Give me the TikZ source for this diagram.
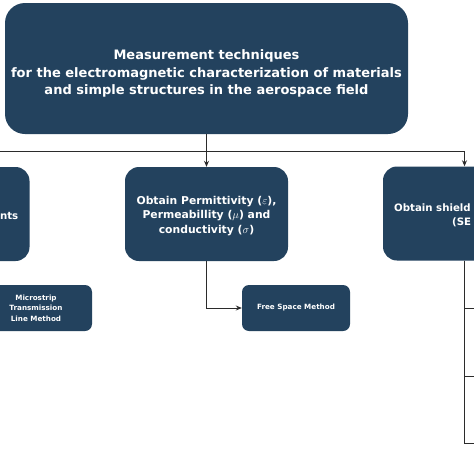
\documentclass[tikz,border=0pt]{standalone}
\usepackage{fontspec}
\setmainfont{DejaVu Sans}
\usetikzlibrary{arrows.meta,positioning}
\definecolor{boxblue}{HTML}{23425E}
\definecolor{linegray}{HTML}{2B2B2B}
\tikzset{
  bigbox/.style={draw=none,fill=boxblue,text=white,rounded corners=20pt,align=center,font=\bfseries\fontsize{13}{17.5}\selectfont,inner sep=0pt},
  midbox/.style={draw=none,fill=boxblue,text=white,rounded corners=14pt,align=center,font=\bfseries\fontsize{10.8}{14.5}\selectfont,inner sep=0pt,minimum height=94pt},
  smallbox/.style={draw=none,fill=boxblue,text=white,rounded corners=7pt,align=center,font=\bfseries\fontsize{7.2}{10.5}\selectfont,inner sep=0pt,minimum height=46pt},
  cuttext/.style={text=white,font=\bfseries\fontsize{10.2}{14.5}\selectfont,inner sep=0pt},
  conn/.style={draw=linegray,line width=1pt},
  arr/.style={conn,-{Stealth[length=6pt,width=5pt]}}
}
\begin{document}
\begin{tikzpicture}[x=1pt,y=-1pt]
\useasboundingbox (0,0) rectangle (474,474);
\fill[white] (0,0) rectangle (474,474);
\clip (0,0) rectangle (474,474);
\node[bigbox,minimum width=403pt,minimum height=131pt] (top) at (206.5,68.5) {\rule{0pt}{20pt}Measurement techniques\\for the electromagnetic characterization of materials\\and simple structures in the aerospace field};
\node[midbox,minimum width=163pt] (mid) at (206.5,214) {\rule{0pt}{12pt}Obtain Permittivity ($\varepsilon$),\\Permeabillity ($\mu$) and\\conductivity ($\sigma$)};
\node[midbox,minimum width=163pt] (left) at (-52,214) {};
\node[cuttext,anchor=east] (lefttext) at (18.5,216) {nts};
\node[midbox,minimum width=163pt] (right) at (464.5,213.5) {};
\node[cuttext,anchor=west] (righttext1) at (394,208) {Obtain shield};
\node[cuttext,anchor=west] (righttext2) at (452,222.5) {(SE};
\node[smallbox,minimum width=112pt] (micro) at (36,308) {Microstrip\\Transmission\\Line Method};
\node[smallbox,minimum width=108pt] (free) at (296,308) {Free Space Method};
\coordinate (bus) at (206.5,151.5);
\coordinate (busleft) at (-10,151.5);
\coordinate (r1) at (480,308);
\coordinate (r2) at (480,376);
\coordinate (r3) at (480,443);
\draw[conn] (top.south) -- (bus);
\draw[conn] (bus) -- (busleft);
\draw[arr] (bus) -- (mid.north);
\draw[arr] (bus) -| (right.north);
\draw[arr] (mid.south) |- (free.west);
\draw[conn] (right.south) |- (r1);
\draw[conn] (right.south) |- (r2);
\draw[conn] (right.south) |- (r3);
\end{tikzpicture}
\end{document}
